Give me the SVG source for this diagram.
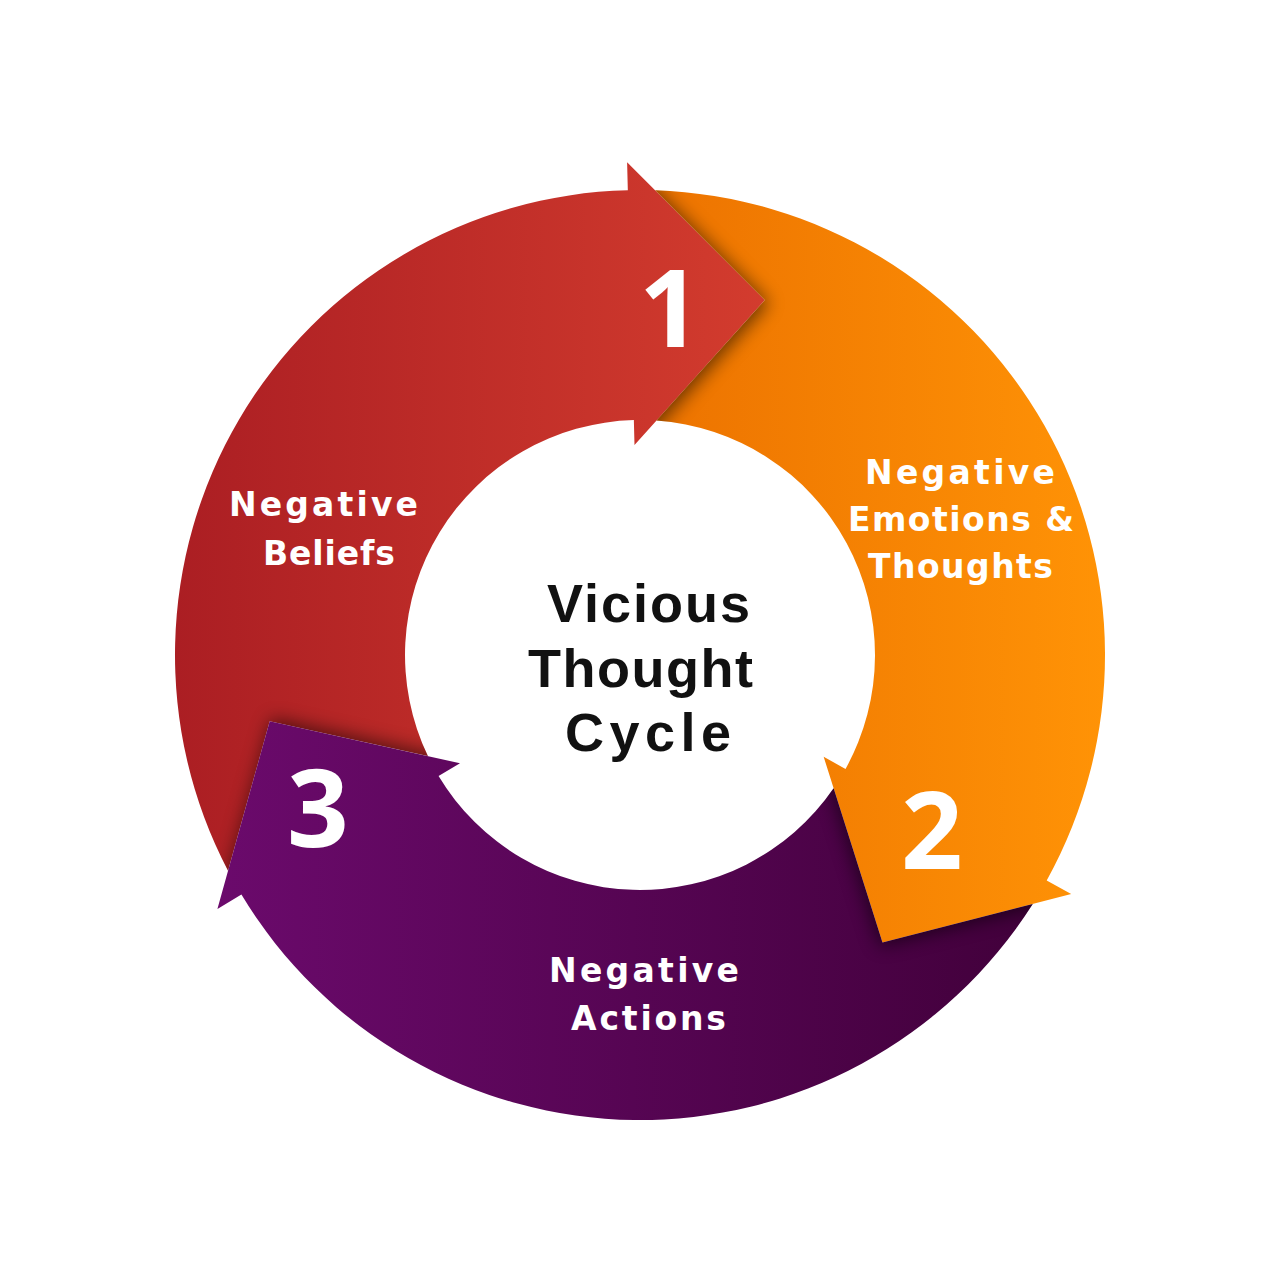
<svg xmlns="http://www.w3.org/2000/svg" width="1280" height="1280" viewBox="0 0 1280 1280">
  <style>
    text { font-variant-ligatures: none; font-feature-settings: "liga" 0, "clig" 0; }
    .lbl { font-family: "DejaVu Sans", "Open Sans", sans-serif; font-weight: 700; font-size: 33px; fill: #ffffff; }
    .num { font-family: "Open Sans", "Liberation Sans", sans-serif; font-weight: 700; font-size: 108px; fill: #ffffff; text-anchor: middle; }
    .ctr { font-family: "Liberation Sans", Arial, sans-serif; font-weight: 700; font-size: 54px; fill: #111111; }
    .shadow { fill: #000000; opacity: 0.55; filter: url(#soft); }
  </style>
  <defs>
    <linearGradient id="gRed" gradientUnits="userSpaceOnUse" x1="175" y1="0" x2="765" y2="0">
      <stop offset="0" stop-color="#ab1e23"/>
      <stop offset="1" stop-color="#d33c2e"/>
    </linearGradient>
    <linearGradient id="gOrange" gradientUnits="userSpaceOnUse" x1="640" y1="0" x2="1105" y2="0">
      <stop offset="0" stop-color="#ec7200"/>
      <stop offset="1" stop-color="#ff9306"/>
    </linearGradient>
    <linearGradient id="gPurple" gradientUnits="userSpaceOnUse" x1="215" y1="0" x2="1050" y2="0">
      <stop offset="0" stop-color="#6b0a6c"/>
      <stop offset="1" stop-color="#41003a"/>
    </linearGradient>
    <filter id="soft" x="-40%" y="-40%" width="180%" height="180%">
      <feGaussianBlur stdDeviation="9"/>
    </filter>
    <path id="bodyRed" d="M228.04,870.68 A465,465 0 0 1 627.83,190.16 L627.10,162.17 L764.75,300.11 L634.50,445.07 L633.85,420.08 A235,235 0 0 0 427.87,756.10 L269.70,721.18 Z"/>
    <path id="bodyOrange" d="M655.14,190.25 A465,465 0 0 1 1046.70,880.44 L1071.19,894.01 L882.47,942.61 L823.67,756.81 L845.54,768.93 A235,235 0 0 0 656.47,420.59 L764.75,300.11 Z"/>
    <path id="bodyPurple" d="M1032.76,903.93 A465,465 0 0 1 241.42,894.49 L217.42,908.91 L269.70,721.18 L459.99,763.16 L438.57,776.03 A235,235 0 0 0 833.61,788.17 L882.47,942.61 Z"/>
    <clipPath id="clipRed"><use href="#bodyRed"/></clipPath>
    <clipPath id="clipOrange"><use href="#bodyOrange"/></clipPath>
    <clipPath id="clipPurple"><use href="#bodyPurple"/></clipPath>
  </defs>

  <rect x="0" y="0" width="1280" height="1280" fill="#ffffff"/>

  <g id="node-center">
    <text class="ctr" x="547" y="622" textLength="203" lengthAdjust="spacing">Vicious</text>
    <text class="ctr" x="528" y="687" textLength="225" lengthAdjust="spacing">Thought</text>
    <text class="ctr" x="565" y="751" textLength="166" lengthAdjust="spacing">Cycle</text>
  </g>

  <g id="node-negative-beliefs">
    <use href="#bodyRed" fill="url(#gRed)"/>
    <g clip-path="url(#clipRed)">
      <polygon class="shadow" points="217.42,908.91 269.70,721.18 459.99,763.16" transform="translate(2,-3)"/>
    </g>
    <text class="lbl" x="229" y="516" textLength="189" lengthAdjust="spacing">Negative</text>
    <text class="lbl" x="263" y="565" textLength="132" lengthAdjust="spacing">Beliefs</text>
    <text class="num" x="670" y="347">1</text>
  </g>

  <g id="node-negative-emotions-thoughts">
    <use href="#bodyOrange" fill="url(#gOrange)"/>
    <g clip-path="url(#clipOrange)">
      <polygon class="shadow" points="627.10,162.17 764.75,300.11 634.50,445.07" transform="translate(4,3)"/>
    </g>
    <text class="lbl" x="865" y="484" textLength="190" lengthAdjust="spacing">Negative</text>
    <text class="lbl" x="848" y="531" textLength="226" lengthAdjust="spacing">Emotions &amp;</text>
    <text class="lbl" x="868" y="578" textLength="185" lengthAdjust="spacing">Thoughts</text>
    <text class="num" x="932" y="869">2</text>
  </g>

  <g id="node-negative-actions">
    <use href="#bodyPurple" fill="url(#gPurple)"/>
    <g clip-path="url(#clipPurple)">
      <polygon class="shadow" points="1071.19,894.01 882.47,942.61 823.67,756.81" transform="translate(-2,4)"/>
    </g>
    <text class="lbl" x="549" y="982" textLength="190" lengthAdjust="spacing">Negative</text>
    <text class="lbl" x="571" y="1030" textLength="155" lengthAdjust="spacing">Actions</text>
    <text class="num" x="318" y="847">3</text>
  </g>
</svg>
